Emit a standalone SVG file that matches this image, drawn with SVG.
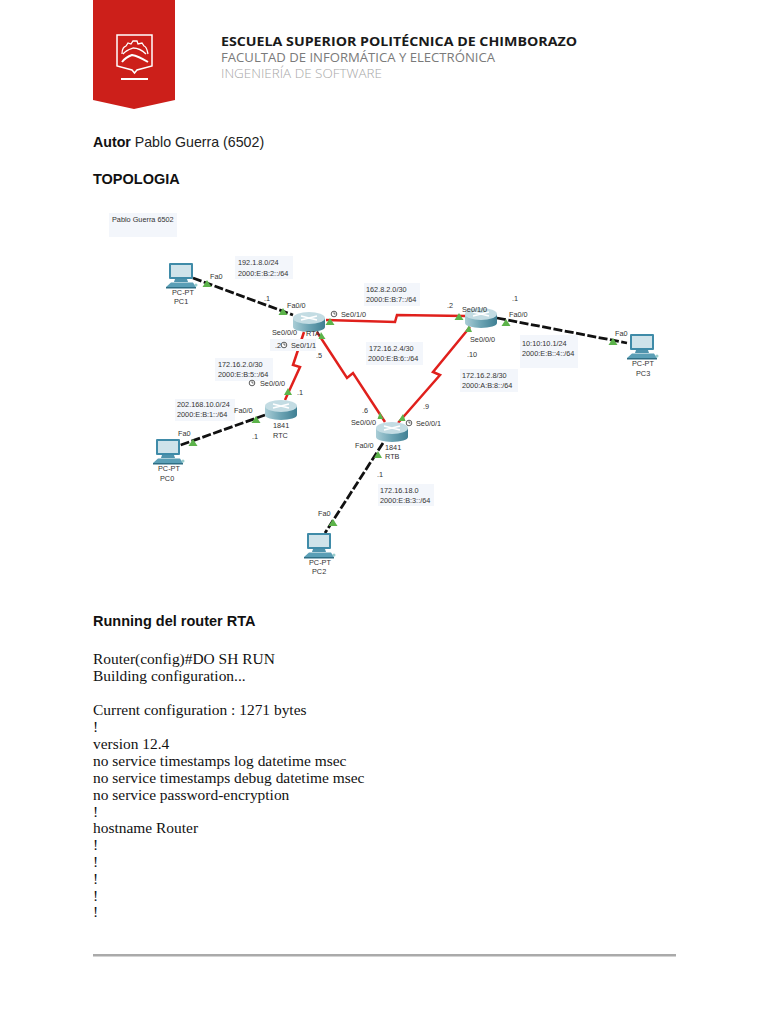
<svg xmlns="http://www.w3.org/2000/svg" width="768" height="1024" viewBox="0 0 768 1024">
<style>
.t{font-family:"Liberation Sans",Arial,sans-serif;font-size:7.300px;fill:#333}
.b{font-family:"Liberation Sans",Arial,sans-serif;font-weight:bold;font-size:14.500px;fill:#111}
.n{font-family:"Liberation Sans",Arial,sans-serif;font-size:14.200px;fill:#222}
.m{font-family:"Liberation Serif","Times New Roman",serif;font-size:15.450px;fill:#111}
.h{font-family:"Open Sans","Noto Sans",sans-serif}
.bg{fill:#f3f6fb}
.eth{fill:none;stroke:#111;stroke-width:2.800;stroke-dasharray:9 2.500}
.ser{fill:none;stroke:#e0201c;stroke-width:2.500}
.tri{fill:#5cb34a}
.em{fill:none;stroke:#fff}
</style>
<defs>
<linearGradient id="rg" x1="0" x2="1" y1="0" y2="0"><stop offset="0" stop-color="#a9cdd6"/><stop offset=".5" stop-color="#6ba3b3"/><stop offset="1" stop-color="#3f7f93"/></linearGradient>
<g id="pc">
<rect x="0" y="0" width="24" height="16" fill="#3f8ba8" rx="1"/>
<rect x="2" y="2" width="20" height="12" fill="#cfe3ea"/>
<path d="M6 16h12l1 3h-14z" fill="#4f93ac"/>
<path d="M-3 24L2 19.500H24L27 24z" fill="#5b9fb6"/>
<rect x="-3" y="24" width="30" height="1.500" fill="#2f6f85"/>
<circle cx="27" cy="22" r="1.500" fill="#9cc"/>
</g>
<g id="router">
<path d="M-16 -4V5A16 5 0 0 0 16 5V-4z" fill="url(#rg)"/>
<ellipse cx="0" cy="-4" rx="16" ry="6" fill="#c3dce3"/>
<path d="M-8 -6L8 -2M-8 -2L8 -6" stroke="#fff" stroke-width="1.300"/>
</g>
<g id="clk"><circle r="2.800" fill="#fff" stroke="#333" stroke-width=".8"/><path d="M0 -1.800V0H1.600" fill="none" stroke="#333" stroke-width=".7"/></g>
</defs>

<g id="header">
<path d="M93 0H175V100L134 109L93 100z" fill="#cc1f1a"/>
<path class="em" stroke-width="1.500" d="M117 35H152V66L137 70L134.500 73L132 70L117 66z"/>
<path class="em" stroke-width="1.300" d="M122 54C122 48 124 47 126 46L128 43L131 44L133 41H137L138 44L142 43L144 46C147 47 147 50 148 54"/>
<path class="em" stroke-width="1.300" d="M123 54C126 50 130 49 133 48C138 48 142 50 146 54"/>
<path class="em" stroke-width="2" d="M122 62C125 58 129 56 132 55C138 56 143 59 148 62"/>
<path class="em" stroke-width="2" d="M121 79H148"/>
<text class="h" x="221" y="46" font-size="12.300" font-weight="700" fill="#1a1a1a" textLength="356" lengthAdjust="spacingAndGlyphs">ESCUELA SUPERIOR POLITÉCNICA DE CHIMBORAZO</text>
<text class="h" x="221" y="62" font-size="12" fill="#7a7a7a" textLength="274" lengthAdjust="spacingAndGlyphs">FACULTAD DE INFORMÁTICA Y ELECTRÓNICA</text>
<text class="h" x="221" y="78" font-size="12" font-weight="300" fill="#a8a8a8" textLength="161" lengthAdjust="spacingAndGlyphs">INGENIERÍA DE SOFTWARE</text>
</g>

<text x="93" y="147" class="n"><tspan font-weight="bold" fill="#111">Autor</tspan> Pablo Guerra (6502)</text>
<text x="93" y="184" class="b">TOPOLOGIA</text>

<g id="label-bgs">
<rect class="bg" x="109" y="213" width="68" height="24"/>
<rect class="bg" x="235" y="256" width="58" height="23"/>
<rect class="bg" x="364" y="283" width="56" height="23"/>
<rect class="bg" x="520" y="335" width="58" height="33"/>
<rect class="bg" x="366" y="342" width="57" height="23"/>
<rect class="bg" x="460" y="369" width="58" height="23"/>
<rect class="bg" x="215" y="358" width="58" height="23"/>
<rect class="bg" x="175" y="399" width="60" height="22"/>
<rect class="bg" x="378" y="484" width="56" height="22"/>
</g>

<g id="connectors">
<path class="eth" d="M193 278L293 315"/>
<path class="eth" d="M497 318L627 343"/>
<path class="eth" d="M265 415L178 446"/>
<path class="eth" d="M383 443L325 533"/>
<path class="ser" d="M326 320L395 322L397 315L465 316"/>
<path class="ser" d="M317 332L347 378L353 373L385 422"/>
<path class="ser" d="M470 327L433 372L440 375L398 423"/>
<path class="ser" d="M304 332L293 365L300 367L285 400"/>
</g>

<g id="label-bgs-top">
<rect class="bg" x="270" y="339" width="46" height="12"/>
</g>

<g id="link-ends">
<path class="tri" d="M207 280l4.500 7h-9z"/>
<path class="tri" d="M283 308l4.500 7h-9z"/>
<path class="tri" d="M330 318l4.500 7h-9z"/>
<path class="tri" d="M321 332l4.500 7h-7z"/>
<path class="tri" d="M459 313l4.500 7h-9z"/>
<path class="tri" d="M469 325l3 7h-7z"/>
<path class="tri" d="M506 319l4.500 7h-9z"/>
<path class="tri" d="M613 338l4.500 7h-9z"/>
<path class="tri" d="M380 412l3.500 7h-6z"/>
<path class="tri" d="M403 414l2.500 7h-7z"/>
<path class="tri" d="M378 451l4 7h-8z"/>
<path class="tri" d="M288 388l4 7h-8z"/>
<path class="tri" d="M256 416l4.500 7h-9z"/>
<path class="tri" d="M193 439l4.500 7h-9z"/>
<path class="tri" d="M333 519l4.500 7h-9z"/>
</g>

<g id="PC1"><use href="#pc" x="169" y="263"/><text class="t" x="172" y="295">PC-PT</text><text class="t" x="174" y="304">PC1</text></g>
<g id="RTA"><use href="#router" x="309" y="322"/><text class="t" x="306" y="336" font-size="6">RTA</text></g>
<g id="RTR"><use href="#router" x="481" y="318"/></g>
<g id="RTB"><use href="#router" x="392" y="432"/><text class="t" x="385" y="450">1841</text><text class="t" x="385" y="459">RTB</text></g>
<g id="RTC"><use href="#router" x="281" y="410"/><text class="t" x="273" y="428">1841</text><text class="t" x="273" y="438">RTC</text></g>
<g id="PC3"><use href="#pc" x="630" y="334"/><text class="t" x="632" y="366">PC-PT</text><text class="t" x="636" y="376">PC3</text></g>
<g id="PC0"><use href="#pc" x="156" y="439"/><text class="t" x="158" y="471">PC-PT</text><text class="t" x="160" y="481">PC0</text></g>
<g id="PC2"><use href="#pc" x="307" y="533"/><text class="t" x="309" y="565">PC-PT</text><text class="t" x="312" y="574">PC2</text></g>

<g id="clocks">
<use href="#clk" x="334" y="314"/><use href="#clk" x="284" y="345"/><use href="#clk" x="252" y="383"/><use href="#clk" x="409" y="423"/>
</g>

<g id="labels">
<text class="t" x="112" y="222">Pablo Guerra 6502</text>
<text class="t" x="238" y="265">192.1.8.0/24</text><text class="t" x="238" y="276">2000:E:B:2::/64</text>
<text class="t" x="210" y="279">Fa0</text><text class="t" x="264" y="301">.1</text><text class="t" x="287" y="308">Fa0/0</text>
<text class="t" x="341" y="317">Se0/1/0</text><text class="t" x="272" y="335">Se0/0/0</text>
<text class="t" x="275" y="348">.2</text><text class="t" x="291" y="348">Se0/1/1</text><text class="t" x="316" y="358">.5</text>
<text class="t" x="218" y="367">172.16.2.0/30</text><text class="t" x="218" y="377">2000:E:B:5::/64</text>
<text class="t" x="260" y="386">Se0/0/0</text><text class="t" x="297" y="395">.1</text>
<text class="t" x="366" y="292">162.8.2.0/30</text><text class="t" x="366" y="302">2000:E:B:7::/64</text>
<text class="t" x="447" y="308">.2</text><text class="t" x="462" y="312">Se0/1/0</text><text class="t" x="512" y="301">.1</text><text class="t" x="509" y="317">Fa0/0</text>
<text class="t" x="470" y="342">Se0/0/0</text><text class="t" x="467" y="357">.10</text>
<text class="t" x="522" y="346">10:10:10.1/24</text><text class="t" x="522" y="356">2000:E:B::4::/64</text>
<text class="t" x="369" y="351">172.16.2.4/30</text><text class="t" x="368" y="361">2000:E:B:6::/64</text>
<text class="t" x="462" y="378">172.16.2.8/30</text><text class="t" x="462" y="388">2000:A:B:8::/64</text>
<text class="t" x="423" y="409">.9</text><text class="t" x="362" y="413">.6</text>
<text class="t" x="351" y="425">Se0/0/0</text><text class="t" x="416" y="426">Se0/0/1</text><text class="t" x="355" y="448">Fa0/0</text>
<text class="t" x="177" y="407">202.168.10.0/24</text><text class="t" x="177" y="417">2000:E:B:1::/64</text>
<text class="t" x="234" y="413">Fa0/0</text><text class="t" x="178" y="436">Fa0</text><text class="t" x="252" y="439">.1</text>
<text class="t" x="377" y="477">.1</text><text class="t" x="380" y="493">172.16.18.0</text><text class="t" x="380" y="503">2000:E:B:3::/64</text>
<text class="t" x="318" y="516">Fa0</text><text class="t" x="615" y="336">Fa0</text>
</g>

<text x="93" y="626" class="b">Running del router RTA</text>
<g id="config">
<text class="m" x="93" y="664">Router(config)#DO SH RUN</text>
<text class="m" x="93" y="681">Building configuration...</text>
<text class="m" x="93" y="715">Current configuration : 1271 bytes</text>
<text class="m" x="93" y="732">!</text>
<text class="m" x="93" y="749">version 12.4</text>
<text class="m" x="93" y="766">no service timestamps log datetime msec</text>
<text class="m" x="93" y="783">no service timestamps debug datetime msec</text>
<text class="m" x="93" y="800">no service password-encryption</text>
<text class="m" x="93" y="817">!</text>
<text class="m" x="93" y="833">hostname Router</text>
<text class="m" x="93" y="850">!</text>
<text class="m" x="93" y="867">!</text>
<text class="m" x="93" y="884">!</text>
<text class="m" x="93" y="901">!</text>
<text class="m" x="93" y="917">!</text>
</g>
<rect id="footer-rule" x="93" y="954" width="583" height="2.500" fill="#aaa"/>
</svg>
